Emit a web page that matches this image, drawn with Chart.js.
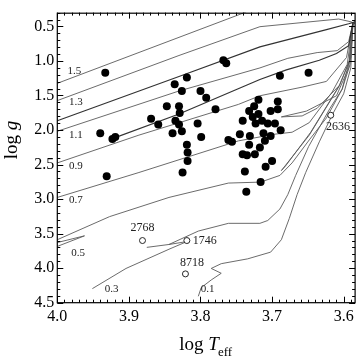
<!DOCTYPE html>
<html><head><meta charset="utf-8">
<script src="https://cdn.jsdelivr.net/npm/chart.js@4"></script>
<style>html,body{margin:0;padding:0;background:#fff}canvas{display:block}</style>
</head><body>
<canvas id="c" width="360" height="356"></canvas>
<script>
// ---- tick labels ----
const xTicks = [4.0, 3.9, 3.8, 3.7, 3.6];
const yTicks = [0.5, 1.0, 1.5, 2.0, 2.5, 3.0, 3.5, 4.0, 4.5];

// ---- stars: [log Teff, log g] ----
const stars = [
  [3.933,1.171],[3.836,1.338],[3.847,1.657],[3.830,1.657],[3.829,1.754],[3.869,1.838],
  [3.859,1.921],[3.835,1.865],[3.830,1.921],[3.940,2.046],[3.923,2.129],[3.919,2.101],
  [3.839,2.046],[3.826,2.018],[3.931,2.671],[3.768,0.990],[3.764,1.032],[3.819,1.240],
  [3.689,1.213],[3.649,1.171],[3.826,1.435],[3.800,1.435],[3.792,1.532],[3.779,1.699],
  [3.804,1.907],[3.799,2.101],[3.819,2.213],[3.818,2.324],[3.818,2.449],[3.825,2.615],
  [3.719,1.560],[3.692,1.588],[3.725,1.657],[3.702,1.726],[3.692,1.699],[3.732,1.726],
  [3.719,1.768],[3.741,1.865],[3.727,1.810],[3.714,1.865],[3.723,1.907],[3.706,1.907],
  [3.696,1.907],[3.688,2.004],[3.745,2.060],[3.731,2.088],[3.712,2.046],[3.702,2.088],
  [3.761,2.143],[3.756,2.171],[3.710,2.157],[3.732,2.213],[3.717,2.254],[3.741,2.351],
  [3.735,2.365],[3.724,2.351],[3.700,2.449],[3.709,2.532],[3.738,2.601],[3.716,2.754],
  [3.736,2.893]
];
const openStars = [[3.881,3.600],[3.819,3.600],[3.821,4.083],[3.618,1.786]];
const openNames = ['2768','1746','8718','2636'];
const openNamePos = [[3.881,3.421],[3.794,3.601],[3.812,3.921],[3.608,1.949]];

// ---- track labels ----
const trackNames = ['1.5','1.3','1.1','0.9','0.7','0.5','0.3','0.1'];
const trackNamePos = [[3.976,1.143],[3.974,1.601],[3.974,2.074],[3.974,2.518],[3.974,3.018],[3.971,3.782],[3.924,4.296],[3.790,4.310]];

// ---- tracks ----
const trackA = [[4.0,1.324],[3.736,0.29]];
const trackB = [[4.0,1.574],[3.830,0.921],[3.717,0.504],[3.607,0.393],[3.589,0.435],[3.583,0.47]];
const trackC = [[4.0,1.865],[3.830,1.226],[3.717,0.796],[3.624,0.546],[3.593,0.462],[3.583,0.43]];
const trackD = [[4.0,2.018],[3.830,1.435],[3.717,1.101],[3.678,0.962],[3.637,0.879],[3.609,0.851],[3.593,0.72],[3.587,0.449]];
const trackE = [[3.924,2.129],[3.830,1.768],[3.717,1.268],[3.680,1.129],[3.634,0.990],[3.610,0.893],[3.593,0.78],[3.587,0.449]];
const trackF = [[4.0,2.476],[3.886,2.074],[3.747,1.629],[3.717,1.504],[3.658,1.379],[3.624,1.296],[3.596,0.95],[3.587,0.449]];
const tongue = [[3.607,1.365],[3.637,1.685],[3.658,1.796],[3.687,1.810],[3.652,1.726],[3.610,1.504],[3.593,1.1],[3.587,0.449]];
const trackG = [[4.0,2.976],[3.886,2.615],[3.747,2.157],[3.696,2.060],[3.672,2.032],[3.648,1.893],[3.616,1.449],[3.595,1.05],[3.587,0.449]];
const spike = [[3.587,0.449],[3.592,1.0],[3.607,1.379],[3.648,2.074],[3.687,2.587],[3.681,2.518],[3.646,2.032],[3.605,1.338],[3.590,0.95],[3.587,0.449]];
const trackH = [[4.0,3.588],[3.927,3.254],[3.844,2.976],[3.761,2.768],[3.716,2.754],[3.689,2.657],[3.672,2.476],[3.648,2.143],[3.624,1.824],[3.602,1.407],[3.592,1.0],[3.587,0.449]];
const hookH = [[4.0,3.685],[3.962,3.532],[4.0,3.629]];
const trackI = [[3.951,4.296],[3.904,4.004],[3.844,3.726],[3.819,3.615],[3.844,3.657],[3.875,3.699]];
const trackJ = [[3.844,3.657],[3.803,3.463],[3.761,3.351],[3.717,3.351],[3.706,3.310],[3.689,3.143],[3.678,2.935],[3.667,2.657],[3.649,2.240],[3.634,1.963],[3.619,1.685],[3.602,1.407],[3.591,1.05],[3.587,0.449]];
const trackK = [[3.803,4.407],[3.799,4.282],[3.785,4.171],[3.771,4.074],[3.785,4.004],[3.771,3.935],[3.734,3.865],[3.702,3.768],[3.687,3.588],[3.676,3.282],[3.665,2.935],[3.653,2.615],[3.634,2.171],[3.616,1.782],[3.600,1.476],[3.590,1.1],[3.587,0.449]];

const thinTracks = [trackA, trackB, trackD, trackF, tongue, trackG, spike, trackH, hookH, trackI, trackJ, trackK];
const thickTracks = [trackC, trackE];

const pts = a => a.map(p => ({x: p[0], y: p[1]}));
const lineDs = (a, w, col) => ({data: pts(a), showLine: true, pointRadius: 0, borderColor: col, borderWidth: w, fill: false, order: 2});

const datasets = [
  {data: pts(stars), pointRadius: 4, pointBackgroundColor: '#000', pointBorderColor: '#000', pointBorderWidth: 0, showLine: false, order: 0},
  {data: pts(openStars), pointRadius: 3, pointBackgroundColor: '#fff', pointBorderColor: '#111', pointBorderWidth: 0.9, showLine: false, order: 0},
  ...thickTracks.map(a => lineDs(a, 1.2, '#333')),
  ...thinTracks.map(a => lineDs(a, 0.9, '#5a5a5a'))
];

const SERIF = '"Liberation Serif", "DejaVu Serif", serif';

const frame = {
  id: 'frame',
  afterDatasetsDraw(chart) {
    const {ctx, chartArea: a, scales: {x, y}} = chart;
    ctx.save();
    ctx.strokeStyle = '#000';
    ctx.lineWidth = 1;
    const seg = (x1, y1, x2, y2) => { ctx.beginPath(); ctx.moveTo(x1, y1); ctx.lineTo(x2, y2); ctx.stroke(); };
    for (let i = 358; i <= 400; i++) {
      const px = Math.round(x.getPixelForValue(i / 100)) + 0.5;
      if (px < a.left - 1 || px > a.right + 1) continue;
      const L = (i % 10 === 0) ? 6 : 3;
      seg(px, a.bottom, px, a.bottom - L);
      seg(px, a.top, px, a.top + L);
    }
    for (let i = 3; i <= 45; i++) {
      const py = Math.round(y.getPixelForValue(i / 10)) + 0.5;
      const L = (i % 5 === 0) ? 6 : 3;
      seg(a.left, py, a.left + L, py);
      seg(a.right, py, a.right - L, py);
    }
    ctx.lineWidth = 1.2;
    ctx.strokeRect(a.left, a.top + 0.6, a.right - a.left, a.bottom - a.top - 0.6);

    // track labels
    ctx.fillStyle = '#222';
    ctx.font = '11px ' + SERIF;
    ctx.textAlign = 'center';
    ctx.textBaseline = 'middle';
    trackNames.forEach((t, i) => ctx.fillText(t, x.getPixelForValue(trackNamePos[i][0]), y.getPixelForValue(trackNamePos[i][1])));
    ctx.font = '12px ' + SERIF;
    openNames.forEach((t, i) => ctx.fillText(t, x.getPixelForValue(openNamePos[i][0]), y.getPixelForValue(openNamePos[i][1])));

    // axis titles
    ctx.fillStyle = '#000';
    ctx.textAlign = 'left';
    ctx.textBaseline = 'alphabetic';
    const f1 = '19px ' + SERIF, fi = 'italic 19px ' + SERIF, fs = '13px ' + SERIF;
    ctx.font = f1; const wLog = ctx.measureText('log ').width;
    ctx.font = fi; const wT = ctx.measureText('T').width; const wg = ctx.measureText('g').width;
    ctx.font = fs; const wE = ctx.measureText('eff').width;
    let sx = (a.left + a.right) / 2 - (wLog + wT + wE) / 2;
    ctx.font = f1; ctx.fillText('log ', sx, 350);
    ctx.font = fi; ctx.fillText('T', sx + wLog, 350);
    ctx.font = fs; ctx.fillText('eff', sx + wLog + wT - 1, 356);
    ctx.save();
    ctx.translate(17, 140);
    ctx.rotate(-Math.PI / 2);
    const tw = wLog + wg;
    ctx.font = f1; ctx.fillText('log ', -tw / 2, 0);
    ctx.font = fi; ctx.fillText('g', -tw / 2 + wLog, 0);
    ctx.restore();
    ctx.restore();
  }
};

new Chart(document.getElementById('c'), {
  type: 'scatter',
  data: {datasets},
  options: {
    responsive: false,
    animation: false,
    devicePixelRatio: 1,
    layout: {padding: {left: 0, right: 2, top: 0, bottom: 0}},
    plugins: {legend: {display: false}, tooltip: {enabled: false}},
    scales: {
      x: {
        type: 'linear', reverse: true, min: 3.584, max: 4.0,
        afterBuildTicks: s => { s.ticks = xTicks.map(v => ({value: v})); },
        afterFit: s => { s.height = 53.3; },
        grid: {display: false, drawTicks: false},
        border: {display: false},
        ticks: {padding: 4, color: '#000', font: {family: SERIF, size: 16}, callback: v => Number(v).toFixed(1), maxRotation: 0, autoSkip: false}
      },
      y: {
        type: 'linear', reverse: true, min: 0.3, max: 4.5,
        afterBuildTicks: s => { s.ticks = yTicks.map(v => ({value: v})); },
        afterFit: s => { s.width = 57.3; },
        grid: {display: false, drawTicks: false},
        border: {display: false},
        ticks: {padding: 3, color: '#000', font: {family: SERIF, size: 16}, callback: v => Number(v).toFixed(1), autoSkip: false}
      }
    }
  },
  plugins: [frame]
});
</script>
</body></html>
